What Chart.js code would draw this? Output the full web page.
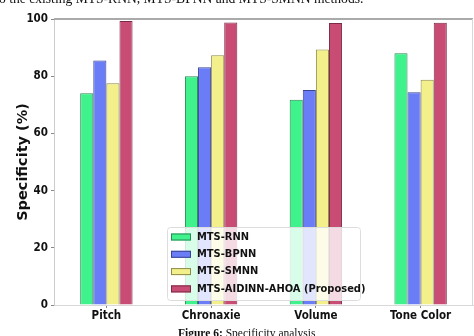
<!DOCTYPE html>
<html>
<head>
<meta charset="utf-8">
<script src="https://cdn.jsdelivr.net/npm/chart.js@4/dist/chart.umd.min.js"></script>
<style>
  html, body { margin:0; padding:0; background:#fff; }
  #wrap { position:relative; width:474px; height:336px; overflow:hidden; }
  #chart { position:absolute; left:0; top:0; }
  .txt { position:absolute; font-family:"Liberation Serif", serif; color:#111; white-space:nowrap; }
  #topline { left:-1px; top:-9px; font-size:13.6px; }
  #caption { left:178px; top:327px; font-size:11.5px; }
</style>
</head>
<body>
<div id="wrap">
  <canvas id="chart" width="474" height="336"></canvas>
  <div id="topline" class="txt">o the existing MTS-RNN, MTS-BPNN and MTS-SMNN methods.</div>
  <div id="caption" class="txt"><b>Figure 6:</b> Specificity analysis</div>
</div>
<script>
// data
var categories = ['Pitch', 'Chronaxie', 'Volume', 'Tone Color'];
var seriesNames = ['MTS-RNN', 'MTS-BPNN', 'MTS-SMNN', 'MTS-AIDINN-AHOA (Proposed)'];
var rnn    = [74.0, 80.0, 71.8, 88.0];
var bpnn   = [85.5, 83.1, 75.2, 74.4];
var smnn   = [77.5, 87.3, 89.3, 78.8];
var aidinn = [99.3, 98.8, 98.6, 98.7];
var yTicks = [0, 20, 40, 60, 80, 100];

var colors = ['#3ff28b', '#6a7cf6', '#f3f08b', '#c94c74'];
var edges  = ['#2a8a55', '#3a4590', '#8d8a4a', '#7a2a45'];
var tickFont = { family:'"DejaVu Sans Condensed", "DejaVu Sans", sans-serif', weight:'bold', size:11.5 };

var values = [rnn, bpnn, smnn, aidinn];
var datasets = seriesNames.map(function(n, i){
  return { label:n, data:values[i], backgroundColor:colors[i], borderColor:edges[i], borderWidth:1,
           categoryPercentage:0.5, barPercentage:1.0 };
});

// legend inside the plot + top/right spines
var extras = {
  id:'extras',
  afterDatasetsDraw: function(chart){
    var ctx = chart.ctx, a = chart.chartArea;
    ctx.save();
    ctx.strokeStyle = '#aaaaaa'; ctx.lineWidth = 2;
    ctx.beginPath(); ctx.moveTo(a.left, a.top); ctx.lineTo(a.right, a.top); ctx.stroke();
    ctx.strokeStyle = '#d8d8d8'; ctx.lineWidth = 1;
    ctx.beginPath(); ctx.moveTo(a.right - 0.5, a.top); ctx.lineTo(a.right - 0.5, a.bottom); ctx.stroke();

    var bx = 167, by = 227, bw = 193, bh = 73, r = 3;
    ctx.fillStyle = 'rgba(255,255,255,0.8)';
    ctx.strokeStyle = '#dddddd';
    ctx.beginPath();
    ctx.roundRect(bx + 0.5, by + 0.5, bw, bh, r);
    ctx.fill(); ctx.stroke();
    ctx.font = 'bold 11px "DejaVu Sans Condensed", "DejaVu Sans", sans-serif';
    ctx.textBaseline = 'middle';
    chart.data.datasets.forEach(function(ds, i){
      var cy = by + 10 + i * 17.3;
      ctx.fillStyle = ds.backgroundColor;
      ctx.strokeStyle = ds.borderColor;
      ctx.fillRect(171, cy - 3.5, 20, 7);
      ctx.strokeRect(171.5, cy - 3, 19, 6);
      ctx.fillStyle = '#111';
      ctx.fillText(ds.label, 197, cy);
    });
    ctx.restore();
  }
};

new Chart(document.getElementById('chart'), {
  type:'bar',
  data:{ labels:categories, datasets:datasets },
  plugins:[extras],
  options:{
    responsive:false,
    animation:false,
    layout:{ padding:{ top:19, right:1, left:0, bottom:0 } },
    plugins:{ legend:{ display:false }, tooltip:{ enabled:false }, title:{ display:false } },
    scales:{
      x:{
        grid:{ display:true, drawOnChartArea:false, offset:false, tickLength:3, color:'#888' },
        border:{ color:'#d8d8d8', width:1 },
        ticks:{ color:'#111', font:tickFont, padding:1 },
        afterFit:function(s){ s.height = 31; }
      },
      y:{
        min:0, max:100,
        afterBuildTicks:function(s){ s.ticks = yTicks.map(function(v){ return { value:v }; }); },
        grid:{ display:true, drawOnChartArea:false, tickLength:3, color:'#888' },
        border:{ color:'#cccccc', width:1 },
        ticks:{ color:'#111', font:tickFont, padding:3 },
        title:{ display:true, text:'Specificity (%)', color:'#111',
                font:{ family:'"DejaVu Sans", sans-serif', weight:'bold', size:14.5 }, padding:{ top:15, bottom:0 } },
        afterFit:function(s){ s.width = 54; }
      }
    }
  }
});
</script>
</body>
</html>
